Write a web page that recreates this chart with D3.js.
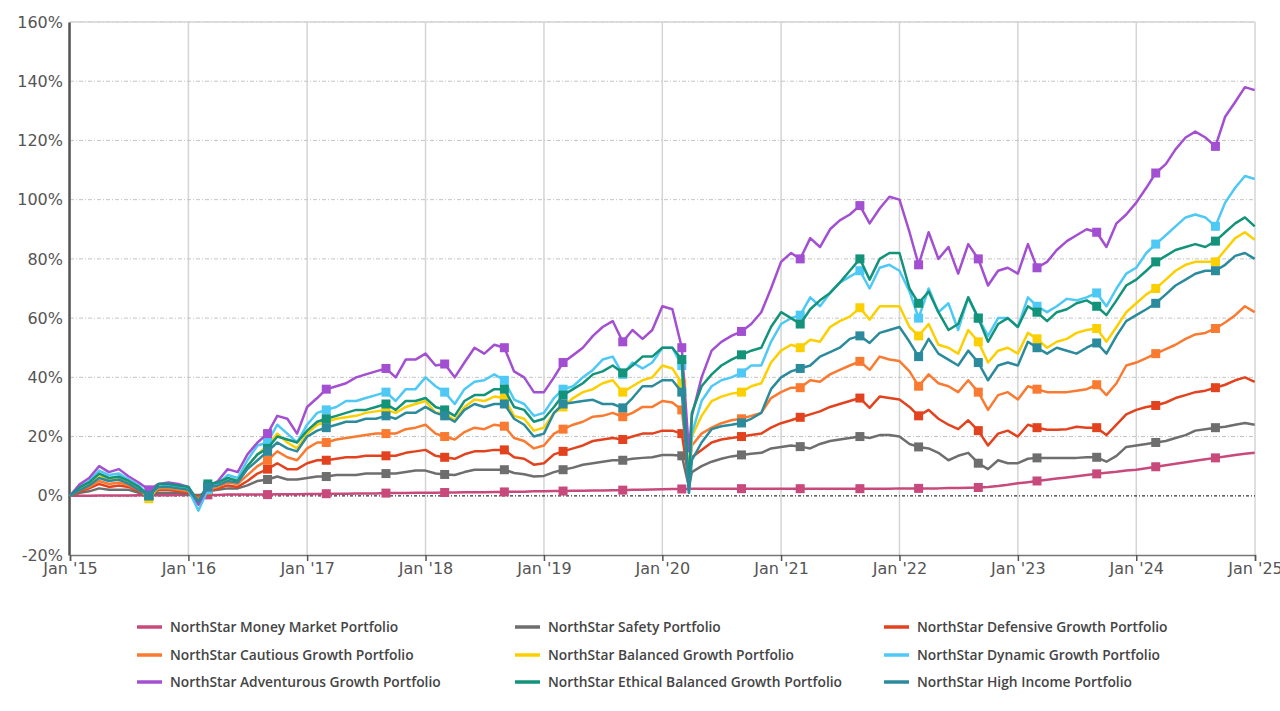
<!DOCTYPE html>
<html>
<head>
<meta charset="utf-8">
<script src="https://cdn.jsdelivr.net/npm/d3@7"></script>
<style>
  body { margin: 0; background: #fff; }
  svg { display: block; }
</style>
</head>
<body>
<script>
// monthly readings, Jan 2015 .. Dec 2024 (2020 has an extra point for the Mar 23 low) + last day
var names = [
  "NorthStar Money Market Portfolio", "NorthStar Safety Portfolio", "NorthStar Defensive Growth Portfolio",
  "NorthStar Cautious Growth Portfolio", "NorthStar Balanced Growth Portfolio", "NorthStar Dynamic Growth Portfolio",
  "NorthStar Adventurous Growth Portfolio", "NorthStar Ethical Balanced Growth Portfolio", "NorthStar High Income Portfolio"
];
var colors = ["#c8497b", "#6e6e6e", "#e2431e", "#f97a30", "#fcd000", "#4ec8f4", "#a34fd1", "#13937a", "#2b8b9c"];

var moneyMarket = [
  0,0,0,0.1,0.1,0.1,0.1,0.2,0.2,0.2,0.2,0.3,
  0.3,0.3,0.3,0.3,0.4,0.4,0.4,0.4,0.4,0.5,0.5,0.5,
  0.6,0.6,0.7,0.7,0.7,0.8,0.8,0.8,0.9,0.9,0.9,1.0,
  1.0,1.0,1.1,1.1,1.2,1.2,1.2,1.3,1.3,1.4,1.4,1.5,
  1.5,1.6,1.6,1.7,1.7,1.8,1.8,1.9,1.9,2.0,2.0,2.1,
  2.2,2.3,2.3,2.3,2.4,2.4,2.4,2.4,2.4,2.4,2.4,2.4,2.4,
  2.4,2.4,2.4,2.4,2.4,2.4,2.4,2.4,2.4,2.4,2.4,2.4,
  2.5,2.5,2.5,2.5,2.5,2.6,2.6,2.7,2.8,3.0,3.3,3.7,
  4.2,4.6,5.0,5.4,5.8,6.2,6.6,7.0,7.4,7.8,8.1,8.5,
  8.8,9.3,9.8,10.3,10.8,11.3,11.8,12.3,12.8,13.3,13.8,14.2,
  14.5];
var safety = [
  0,1,1.5,2.5,2,2,2,1,0,1,1,1,
  0.5,0,1.5,2,2.5,2.5,3.5,5,5.5,6.5,5.5,5.5,
  6,6.5,6.5,7,7,7,7.5,7.5,7.5,7.5,8,8.5,
  8.5,7.5,7.2,7,8,8.8,8.8,8.8,8.8,7.7,7.3,6.5,
  6.7,8,8.8,9.5,10.5,11,11.5,12,12,12.5,12.8,13,
  13.8,13.8,13.5,3,8,10,11.5,12.5,13.3,13.8,14.2,14.5,16,
  16.5,17,16.6,16,17.5,18.5,19,19.5,20,19.5,20.5,20.5,
  20,17.5,16.5,16,14.5,12,13.5,14.5,11,9,12,11,
  11,12.5,12.8,12.8,12.8,12.8,12.8,13,13,11.5,13.5,16.5,
  17,17.5,18,18.5,19.5,20.5,22,22.5,23,23.3,24,24.6,
  24];
var defensive = [
  0,1.5,2.5,4,3,3.5,3,1.5,0,2,2,1.5,
  1,-0.5,1.5,2.5,3.5,3,5,7.5,9,11,9,9,
  11,12,12,12.5,13,13,13.5,13.5,13.5,13.5,14.5,15,
  15.5,13.5,13,12.5,14,15,15,15.5,15.5,13,12.5,10.5,
  11,14,15,16,17,18.5,19,19.5,19,20,21,21,
  22,22,21,5,13,15.5,18,19,19.5,20,20.5,21,23,
  24.5,25.5,26.5,27.5,28.5,30,31,32,33,29.7,33.5,33,
  32.5,30,27,29,26,24,22.5,25.5,22,17,21,22,
  20,24,23,22.3,22.3,22.5,23.3,23,23,20.5,24,27.5,
  29,30,30.5,31.5,33,34,35,35.5,36.5,37.5,39,40,
  38.5];
var cautious = [
  0,2,3,5,4,4.5,3.5,2,0,2.5,2.5,2,
  1.5,-1,2,3,4.5,4,7,10,12,15,13,12,
  16,18,18,19,19.5,20,20.5,21,21,21,22.5,23,
  24,21,20,19,21.5,23,22.5,24,23.5,19.5,18.5,16,
  17,21,22.5,24,25,26.7,27,28,26.7,28,30,30,
  32,31.5,29,8,17,21,23,24.5,25.5,26,27,28,33,
  35,36.5,36.5,39,38.5,41,42.5,44,45.4,42.5,47,46,
  45.5,42,37,41,38,37,35,39,35,29,34,35,
  32.5,37,36,35,35,35,35.5,36,37.5,34,38,44,
  45,46.5,48,49.5,51,53,54.5,55,56.5,58.5,61,64,
  62];
var balanced = [
  0,2.5,4,7,5.5,6,4.5,2.5,-1,3,3,2.5,
  2,-3,3,3.5,6,5,10,14,17,21,18,16,
  21,24,25,26,26.5,27,28,28.5,29,28,30,31,
  32,28,28,25.5,30,32.5,32,33.5,33,27,26,22,
  23,28,30,33,35,36,38,39,35,37,39,40,
  44,43,38,6,20,27,32,33.5,34.5,35,37,38,45,
  49,51,50,52.7,52,57,59,60.5,63.5,59.5,64,64,
  64,57,54,58,51,50,48,56,52,45,49,50,
  48,55,53,50,52,53,55,56,56.5,52,57,62,
  65,68,70,73,76,78,79,79,79,83,87,89,
  86.5];
var dynamicGrowth = [
  0,3,5,8.5,7,7.5,5.5,3.5,0,3,3.5,3,
  2,-5,2,4,7,6,12,17,18,24,21,18,
  24,28,29,30,32,32,33,34,35,32,36,36,
  40,37,35,31,36,38.5,39,41,39,32.5,31,27,
  28,33,36,37,40,42.5,46,47,41,45,43,45,
  50,50,44,1,21,32,37,39,40,41.5,44,44,52,
  58,60,61,67,64,68.5,72,74,76,70,77,78,
  76,69,60,70,62,65,56,67,60,54,60,60,
  57,67,64,62,64,66.5,66,67,68.5,64,70,75,
  77,82,85,88,91,94,95,94,91,99,104,108,
  107];
var adventurous = [
  0,4,6,10,8,9,6.5,4.5,2,4,4.5,4,
  3,-3,3,5,9,8,14,18,21,27,26,21,
  30,33,36,37,38,40,41,42,43,40,46,46,
  48,44,44.5,40,45,50,48,51,50,42,40,35,
  35,40,45,47.5,50,54,57,59,52,56,53,56,
  64,63,50,15,27,40,49,52,54,55.5,58,62,70,
  79,82,80,87,84,90,93,95,98,92,97,101,
  100,89,78,89,80,84,75,85,80,71,76,77,
  75,85,77,79,83,86,88,90,89,84,92,95,
  99,104,109,112,117,121,123,121,118,128,133,138,
  137];
var ethical = [
  0,3,4.5,7.5,6,6.5,5,3,0,4,4,3.5,
  3,-2,4,4.5,6,5,10,14,16,20,19,18,
  22,25,26,27,28,29,29,30,31,29,32,32,
  33,30,29,27,32,34,34,36,36,30,29,25,
  26,30,34,36,38,41,42,44,41.5,44,47,47,
  50,50,46,2,28,37,41,44,46,47.6,49,50,57,
  62,60,58,63,66,68.5,72,76,80,73,80,82,
  82,70,65,69,62,56,58,67,60,52,58,60,
  57,64,62,59,62,63,65,66,64,61,66,71,
  73,76,79,81,83,84,85,84,86,89,92,94,
  91];
var highIncome = [
  0,2,3.5,6,5,5.5,4,2,0,3,3,2.5,
  2,-2,3,3.5,5,4.5,9,12,15,18,16,15,
  20,22,23,24,25,25,26,26,27,26,28,28,
  30,28,27,25,29,31,30,31,31,26,24,20,
  21,28,31,31.5,32,32.4,31,31,29.7,33,37,37,
  39,39,35,1,12,18,22.5,23.5,24,24.6,26,28,36,
  40,42,43,44,47,48.5,50,53,54,51.6,55,56,
  57,52,47,53,48,46,44,49,45,39,44,45,
  44,52,50,48,50,49,48,50,51.6,48,54,59,
  61,63,65,68,71,73,75,76,76,78,81,82,
  80];

var seriesValues = [moneyMarket, safety, defensive, cautious, balanced, dynamicGrowth, adventurous, ethical, highIncome];
var yTicks = [-20, 0, 20, 40, 60, 80, 100, 120, 140, 160];
var xTickYears = [2015, 2016, 2017, 2018, 2019, 2020, 2021, 2022, 2023, 2024, 2025];

var dates = [];
for (var yr = 2015; yr <= 2024; yr++) {
  for (var mo = 0; mo < 12; mo++) {
    dates.push(new Date(yr, mo, 1));
    if (yr === 2020 && mo === 2) dates.push(new Date(2020, 2, 23));
  }
}
dates.push(new Date(2024, 11, 31));

var width = 1280, height = 711;
var plotLeft = 70, plotRight = 1255, plotTop = 22, plotBottom = 555;

var svg = d3.select("body").append("svg")
  .attr("width", width)
  .attr("height", height)
  .style("background", "#fff");

var x = d3.scaleTime()
  .domain([new Date(2015, 0, 1), new Date(2025, 0, 1)])
  .range([plotLeft, plotRight]);
var y = d3.scaleLinear()
  .domain([-20, 160])
  .range([plotBottom, plotTop]);

// vertical grid
svg.append("g").selectAll("line")
  .data(xTickYears)
  .enter().append("line")
  .attr("x1", function(d) { return x(new Date(d, 0, 1)); })
  .attr("x2", function(d) { return x(new Date(d, 0, 1)); })
  .attr("y1", plotTop)
  .attr("y2", plotBottom)
  .attr("stroke", "#d4d4d4")
  .attr("stroke-width", 1.5);

// horizontal grid
svg.append("g").selectAll("line")
  .data(yTicks.filter(function(d) { return d !== 0 && d !== -20; }))
  .enter().append("line")
  .attr("x1", plotLeft)
  .attr("x2", plotRight)
  .attr("y1", function(d) { return y(d); })
  .attr("y2", function(d) { return y(d); })
  .attr("stroke", "#c4c4c4")
  .attr("stroke-width", 1)
  .attr("stroke-dasharray", "4,2,1,2");

// top border
svg.append("line")
  .attr("x1", plotLeft).attr("x2", plotRight)
  .attr("y1", plotTop).attr("y2", plotTop)
  .attr("stroke", "#d4d4d4").attr("stroke-width", 1.5);

// zero line
svg.append("line")
  .attr("x1", plotLeft).attr("x2", plotRight)
  .attr("y1", y(0)).attr("y2", y(0))
  .attr("stroke", "#333")
  .attr("stroke-width", 1.3)
  .attr("stroke-dasharray", "3,2,1,2");

// y axis
var yAxis = svg.append("g")
  .attr("transform", "translate(" + (plotLeft - 1) + ",0)")
  .call(d3.axisLeft(y).tickValues(yTicks).tickSize(0).tickPadding(6)
    .tickFormat(function(d) { return d + "%"; }));
yAxis.select(".domain").attr("stroke", "#555").attr("stroke-width", 2.5);
yAxis.selectAll("text")
  .attr("fill", "#555")
  .style("font-family", "DejaVu Sans, sans-serif")
  .style("font-size", "16px");

// x axis
var xAxis = svg.append("g")
  .attr("transform", "translate(0," + plotBottom + ")")
  .call(d3.axisBottom(x)
    .tickValues(xTickYears.map(function(d) { return new Date(d, 0, 1); }))
    .tickSize(6).tickPadding(2)
    .tickFormat(function(d) { return "Jan '" + String(d.getFullYear()).slice(2); }));
xAxis.select(".domain").attr("stroke", "#777").attr("stroke-width", 1.5);
xAxis.selectAll(".tick line").attr("stroke", "#555").attr("stroke-width", 1.5);
xAxis.selectAll("text")
  .attr("fill", "#555")
  .style("font-family", "DejaVu Sans, sans-serif")
  .style("font-size", "16px");

// lines
var line = d3.line()
  .x(function(d, i) { return x(dates[i]); })
  .y(function(d) { return y(d); });

var plot = svg.append("g");
seriesValues.forEach(function(vals, k) {
  plot.append("path")
    .datum(vals)
    .attr("fill", "none")
    .attr("stroke", colors[k])
    .attr("stroke-width", 2.5)
    .attr("stroke-linejoin", "round")
    .attr("d", line);

  var marks = vals.map(function(v, i) { return { v: v, d: dates[i] }; })
    .filter(function(p) {
      var m = p.d.getMonth();
      return p.d.getDate() === 1 && (m === 2 || m === 8) && p.d >= new Date(2015, 8, 1);
    });
  plot.selectAll(".mk" + k)
    .data(marks)
    .enter().append("rect")
    .attr("class", "mk" + k)
    .attr("x", function(p) { return x(p.d) - 4.5; })
    .attr("y", function(p) { return y(p.v) - 4.5; })
    .attr("width", 9)
    .attr("height", 9)
    .attr("fill", colors[k]);
});

// legend
var colX = [137, 515, 884];
var rowY = [627, 655, 682];
var legend = svg.append("g");
names.forEach(function(n, k) {
  var cx = colX[k % 3], cy = rowY[Math.floor(k / 3)];
  legend.append("line")
    .attr("x1", cx).attr("x2", cx + 25)
    .attr("y1", cy).attr("y2", cy)
    .attr("stroke", colors[k])
    .attr("stroke-width", 3.5);
  legend.append("text")
    .attr("x", cx + 33)
    .attr("y", cy)
    .attr("dy", "0.35em")
    .attr("fill", "#444")
    .style("font-family", "'Open Sans', sans-serif")
    .style("font-weight", 600)
    .style("font-size", "13.8px")
    .text(n);
});
</script>
</body>
</html>
